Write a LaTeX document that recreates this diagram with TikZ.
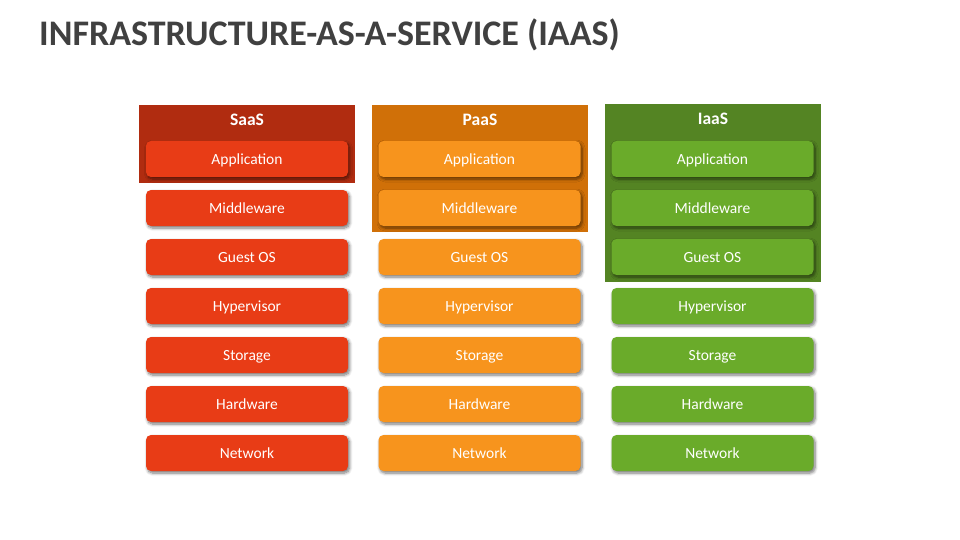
\documentclass[tikz,border=0pt]{standalone}
\usepackage{fontspec}
\setmainfont{Carlito}
\usetikzlibrary{shadows.blur}
\definecolor{titlegray}{HTML}{404040}
\definecolor{saasdark}{HTML}{B02C10}
\definecolor{saasbox}{HTML}{E83C16}
\definecolor{paasdark}{HTML}{D07008}
\definecolor{paasbox}{HTML}{F7941D}
\definecolor{iaasdark}{HTML}{548423}
\definecolor{iaasbox}{HTML}{6AAB2A}
\tikzset{
  layer/.style={rounded corners=5pt, minimum width=202pt, minimum height=36pt,
    inner sep=0pt, text=white, font=\fontsize{15.5}{18}\selectfont,
    text height=13.5pt, text depth=3pt,
    blur shadow={shadow xshift=1.5pt, shadow yshift=-2pt, shadow blur steps=6, shadow blur radius=3pt, shadow opacity=55}},
  hdr/.style={anchor=north, minimum width=216pt, inner sep=0pt},
  hdrtext/.style={text=white, font=\fontsize{17.5}{20}\selectfont\bfseries, inner sep=0pt},
}
\begin{document}
\begin{tikzpicture}[x=1pt,y=-1pt]
\useasboundingbox (0,0) rectangle (960,540);
\node[anchor=west, text=titlegray, font=\fontsize{36}{40}\selectfont\bfseries, inner sep=0pt] (title) at (39,35) {INFRASTRUCTURE-AS-A-SERVICE (IAAS)};
% headers
\node[hdr, fill=saasdark, minimum height=78pt] (sh) at (247,105) {};
\node[hdr, fill=paasdark, minimum height=127pt] (ph) at (480,105) {};
\node[hdr, fill=iaasdark, minimum height=178pt] (ih) at (713,104) {};
\node[hdrtext] (shl) at (247,120) {SaaS};
\node[hdrtext] (phl) at (480,120) {PaaS};
\node[hdrtext] (ihl) at (713,119) {IaaS};
% layers
\foreach \t [count=\i] in {Application,Middleware,Guest OS,Hypervisor,Storage,Hardware,Network}{
  \node[layer, fill=saasbox] (s\i) at (247,{159+(\i-1)*49}) {\t};
  \node[layer, fill=paasbox] (p\i) at (479.5,{159+(\i-1)*49}) {\t};
  \node[layer, fill=iaasbox] (i\i) at (712.5,{159+(\i-1)*49}) {\t};
}
\end{tikzpicture}
\end{document}
